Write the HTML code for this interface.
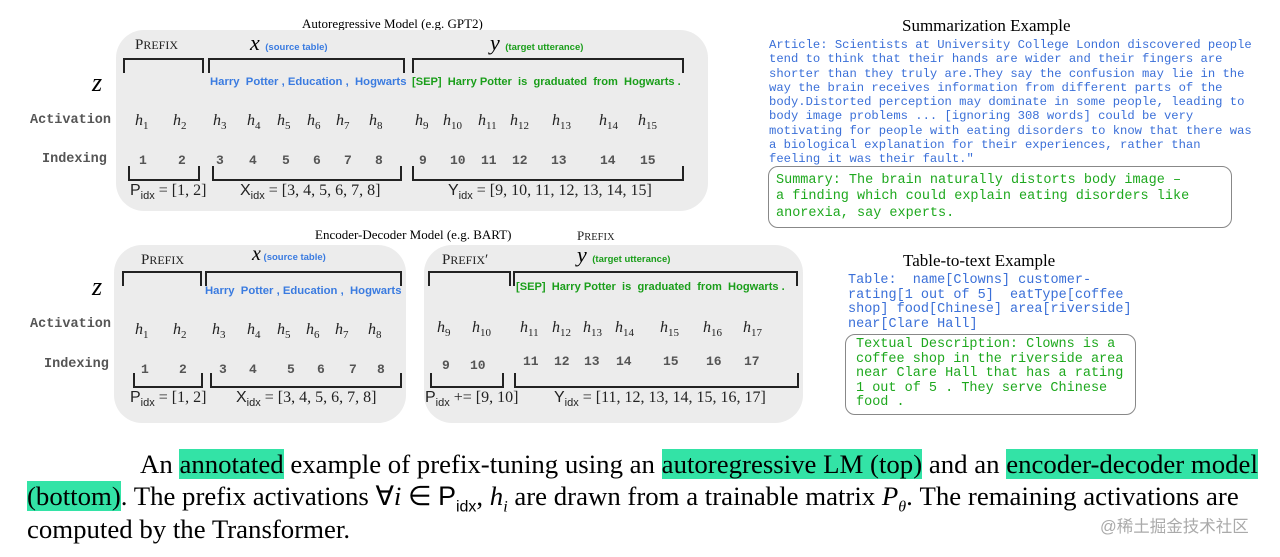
<!DOCTYPE html>
<html><head><meta charset="utf-8"><style>
body{margin:0;width:1280px;height:557px;background:#fff;position:relative;overflow:hidden;font-family:"Liberation Serif",serif;}
.a{position:absolute;white-space:nowrap;line-height:1;}
.box{position:absolute;background:#ececec;border-radius:28px;}
.h{font-family:"Liberation Serif",serif;font-style:italic;font-size:16px;color:#222;}
.h sub{font-style:normal;font-size:11px;}
.n{font-family:"Liberation Mono",monospace;font-weight:bold;font-size:13px;color:#555;}
.lab{font-family:"Liberation Mono",monospace;font-weight:bold;font-size:13.5px;color:#555;}
.bl{font-family:"Liberation Sans",sans-serif;font-weight:bold;font-size:11.3px;color:#3a7be0;}
.gr{font-family:"Liberation Sans",sans-serif;font-weight:bold;font-size:11.1px;color:#1a9e1a;}
.sc{font-size:15px;color:#222;}
.sc small{font-size:12px;}
.idx{font-size:16px;color:#222;}
.idx .s{font-family:"Liberation Sans",sans-serif;}
.idx sub{font-family:"Liberation Sans",sans-serif;font-size:11px;}
.brT{position:absolute;border:2.5px solid #222;border-bottom:none;height:13px;}
.brB{position:absolute;border:2.5px solid #222;border-top:none;height:13px;}
.mono{position:absolute;font-family:"Liberation Mono",monospace;white-space:pre;}
.hl{background:#33e3a6;}
</style></head><body>

<div class="a" style="left:302px;top:17px;font-size:13px;">Autoregressive Model (e.g. GPT2)</div>
<div class="box" style="left:116px;top:30px;width:592px;height:181px;"></div>
<div class="a sc" style="left:135px;top:38px;">P<small>REFIX</small></div>
<div class="a" style="left:250px;top:32px;font-size:22px;font-style:italic;">x <span class="bl" style="font-style:normal;font-size:9.5px;">(source table)</span></div>
<div class="a" style="left:490px;top:32px;font-size:22px;font-style:italic;">y <span class="gr" style="font-style:normal;font-size:9.5px;">(target utterance)</span></div>
<div class="brT" style="left:123px;top:58px;width:77px;"></div>
<div class="brT" style="left:208px;top:58px;width:193px;"></div>
<div class="brT" style="left:412px;top:58px;width:268px;"></div>
<div class="a" style="left:92px;top:70px;font-size:26px;font-style:italic;">z</div>
<div class="a bl" style="left:210px;top:77px;">Harry&nbsp; Potter , Education ,&nbsp; Hogwarts</div>
<div class="a gr" style="left:412px;top:77px;">[SEP]&nbsp; Harry Potter&nbsp; is&nbsp; graduated&nbsp; from&nbsp; Hogwarts .</div>
<div class="a lab" style="left:30px;top:114px;">Activation</div>
<div class="a lab" style="left:42px;top:153px;">Indexing</div>

<div class="a h" style="left:135px;top:113px;">h<sub>1</sub></div>
<div class="a h" style="left:173px;top:113px;">h<sub>2</sub></div>
<div class="a h" style="left:213px;top:113px;">h<sub>3</sub></div>
<div class="a h" style="left:247px;top:113px;">h<sub>4</sub></div>
<div class="a h" style="left:277px;top:113px;">h<sub>5</sub></div>
<div class="a h" style="left:307px;top:113px;">h<sub>6</sub></div>
<div class="a h" style="left:336px;top:113px;">h<sub>7</sub></div>
<div class="a h" style="left:369px;top:113px;">h<sub>8</sub></div>
<div class="a h" style="left:415px;top:113px;">h<sub>9</sub></div>
<div class="a h" style="left:443px;top:113px;">h<sub>10</sub></div>
<div class="a h" style="left:478px;top:113px;">h<sub>11</sub></div>
<div class="a h" style="left:510px;top:113px;">h<sub>12</sub></div>
<div class="a h" style="left:552px;top:113px;">h<sub>13</sub></div>
<div class="a h" style="left:599px;top:113px;">h<sub>14</sub></div>
<div class="a h" style="left:638px;top:113px;">h<sub>15</sub></div>

<div class="a n" style="left:139px;top:154px;">1</div>
<div class="a n" style="left:178px;top:154px;">2</div>
<div class="a n" style="left:216px;top:154px;">3</div>
<div class="a n" style="left:249px;top:154px;">4</div>
<div class="a n" style="left:282px;top:154px;">5</div>
<div class="a n" style="left:313px;top:154px;">6</div>
<div class="a n" style="left:344px;top:154px;">7</div>
<div class="a n" style="left:375px;top:154px;">8</div>
<div class="a n" style="left:419px;top:154px;">9</div>
<div class="a n" style="left:450px;top:154px;">10</div>
<div class="a n" style="left:481px;top:154px;">11</div>
<div class="a n" style="left:512px;top:154px;">12</div>
<div class="a n" style="left:551px;top:154px;">13</div>
<div class="a n" style="left:600px;top:154px;">14</div>
<div class="a n" style="left:640px;top:154px;">15</div>

<div class="brB" style="left:128px;top:166px;width:68px;"></div>
<div class="brB" style="left:212px;top:166px;width:186px;"></div>
<div class="brB" style="left:412px;top:166px;width:268px;"></div>
<div class="a idx" style="left:130px;top:183px;"><span class="s">P</span><sub>idx</sub> = [1, 2]</div>
<div class="a idx" style="left:240px;top:183px;"><span class="s">X</span><sub>idx</sub> = [3, 4, 5, 6, 7, 8]</div>
<div class="a idx" style="left:448px;top:183px;"><span class="s">Y</span><sub>idx</sub> = [9, 10, 11, 12, 13, 14, 15]</div>

<div class="a" style="left:315px;top:228px;font-size:13px;">Encoder-Decoder Model (e.g. BART)</div>
<div class="a sc" style="left:577px;top:229px;font-size:13px;">P<small style="font-size:10.5px;">REFIX</small></div>
<div class="box" style="left:114px;top:245px;width:292px;height:178px;"></div>
<div class="box" style="left:424px;top:245px;width:379px;height:178px;"></div>
<div class="a sc" style="left:141px;top:253px;">P<small>REFIX</small></div>
<div class="a" style="left:252px;top:244px;font-size:20px;font-style:italic;">x<span class="bl" style="font-style:normal;font-size:9.5px;"> (source table)</span></div>
<div class="a sc" style="left:442px;top:253px;">P<small>REFIX</small>′</div>
<div class="a" style="left:577px;top:244px;font-size:22px;font-style:italic;">y <span class="gr" style="font-style:normal;font-size:9.5px;">(target utterance)</span></div>
<div class="brT" style="left:122px;top:271px;width:76px;"></div>
<div class="brT" style="left:205px;top:271px;width:193px;"></div>
<div class="brT" style="left:428px;top:271px;width:79px;"></div>
<div class="brT" style="left:513px;top:271px;width:281px;"></div>
<div class="a" style="left:92px;top:274px;font-size:26px;font-style:italic;">z</div>
<div class="a bl" style="left:205px;top:286px;">Harry&nbsp; Potter , Education ,&nbsp; Hogwarts</div>
<div class="a gr" style="left:516px;top:282px;">[SEP]&nbsp; Harry Potter&nbsp; is&nbsp; graduated&nbsp; from&nbsp; Hogwarts .</div>
<div class="a lab" style="left:30px;top:318px;">Activation</div>
<div class="a lab" style="left:44px;top:358px;">Indexing</div>

<div class="a h" style="left:135px;top:322px;">h<sub>1</sub></div>
<div class="a h" style="left:173px;top:322px;">h<sub>2</sub></div>
<div class="a h" style="left:212px;top:322px;">h<sub>3</sub></div>
<div class="a h" style="left:247px;top:322px;">h<sub>4</sub></div>
<div class="a h" style="left:277px;top:322px;">h<sub>5</sub></div>
<div class="a h" style="left:306px;top:322px;">h<sub>6</sub></div>
<div class="a h" style="left:335px;top:322px;">h<sub>7</sub></div>
<div class="a h" style="left:368px;top:322px;">h<sub>8</sub></div>
<div class="a h" style="left:437px;top:320px;">h<sub>9</sub></div>
<div class="a h" style="left:472px;top:320px;">h<sub>10</sub></div>
<div class="a h" style="left:520px;top:320px;">h<sub>11</sub></div>
<div class="a h" style="left:552px;top:320px;">h<sub>12</sub></div>
<div class="a h" style="left:583px;top:320px;">h<sub>13</sub></div>
<div class="a h" style="left:615px;top:320px;">h<sub>14</sub></div>
<div class="a h" style="left:660px;top:320px;">h<sub>15</sub></div>
<div class="a h" style="left:703px;top:320px;">h<sub>16</sub></div>
<div class="a h" style="left:743px;top:320px;">h<sub>17</sub></div>

<div class="a n" style="left:141px;top:363px;">1</div>
<div class="a n" style="left:179px;top:363px;">2</div>
<div class="a n" style="left:219px;top:363px;">3</div>
<div class="a n" style="left:249px;top:363px;">4</div>
<div class="a n" style="left:287px;top:363px;">5</div>
<div class="a n" style="left:317px;top:363px;">6</div>
<div class="a n" style="left:349px;top:363px;">7</div>
<div class="a n" style="left:377px;top:363px;">8</div>
<div class="a n" style="left:442px;top:359px;">9</div>
<div class="a n" style="left:470px;top:359px;">10</div>
<div class="a n" style="left:523px;top:355px;">11</div>
<div class="a n" style="left:554px;top:355px;">12</div>
<div class="a n" style="left:584px;top:355px;">13</div>
<div class="a n" style="left:616px;top:355px;">14</div>
<div class="a n" style="left:663px;top:355px;">15</div>
<div class="a n" style="left:706px;top:355px;">16</div>
<div class="a n" style="left:744px;top:355px;">17</div>

<div class="brB" style="left:133px;top:373px;width:66px;"></div>
<div class="brB" style="left:210px;top:373px;width:188px;"></div>
<div class="brB" style="left:430px;top:373px;width:70px;"></div>
<div class="brB" style="left:514px;top:373px;width:281px;"></div>
<div class="a idx" style="left:130px;top:390px;"><span class="s">P</span><sub>idx</sub> = [1, 2]</div>
<div class="a idx" style="left:236px;top:390px;"><span class="s">X</span><sub>idx</sub> = [3, 4, 5, 6, 7, 8]</div>
<div class="a idx" style="left:425px;top:390px;"><span class="s">P</span><sub>idx</sub> += [9, 10]</div>
<div class="a idx" style="left:554px;top:390px;"><span class="s">Y</span><sub>idx</sub> = [11, 12, 13, 14, 15, 16, 17]</div>

<div class="a" style="left:902px;top:17px;font-size:17px;">Summarization Example</div>
<div class="mono" style="left:769px;top:38px;font-size:12.2px;line-height:14.3px;color:#3a6fd8;">Article: Scientists at University College London discovered people
tend to think that their hands are wider and their fingers are
shorter than they truly are.They say the confusion may lie in the
way the brain receives information from different parts of the
body.Distorted perception may dominate in some people, leading to
body image problems ... [ignoring 308 words] could be very
motivating for people with eating disorders to know that there was
a biological explanation for their experiences, rather than
feeling it was their fault."</div>
<div style="position:absolute;left:768px;top:166px;width:462px;height:60px;border:1.5px solid #888;border-radius:10px;"></div>
<div class="mono" style="left:776px;top:173px;font-size:13.5px;line-height:16.3px;color:#1ea81e;">Summary: The brain naturally distorts body image –
a finding which could explain eating disorders like
anorexia, say experts.</div>

<div class="a" style="left:903px;top:252px;font-size:17px;">Table-to-text Example</div>
<div class="mono" style="left:848px;top:274px;font-size:13.5px;line-height:14.6px;color:#3a6fd8;">Table:  name[Clowns] customer-
rating[1 out of 5]  eatType[coffee
shop] food[Chinese] area[riverside]
near[Clare Hall]</div>
<div style="position:absolute;left:845px;top:334px;width:289px;height:79px;border:1.5px solid #888;border-radius:10px;"></div>
<div class="mono" style="left:856px;top:338px;font-size:13.5px;line-height:14.6px;color:#1ea81e;">Textual Description: Clowns is a
coffee shop in the riverside area
near Clare Hall that has a rating
1 out of 5 . They serve Chinese
food .</div>

<div class="a" style="left:140px;top:451px;font-size:26.8px;">An <span class="hl">annotated</span> example of prefix-tuning using an <span class="hl">autoregressive LM (top)</span> and an <span class="hl">encoder-decoder model</span></div>
<div class="a" style="left:27px;top:483px;font-size:26.8px;"><span class="hl">(bottom)</span>. The prefix activations ∀<i>i</i> ∈ <span style="font-family:'Liberation Sans',sans-serif;">P<sub style="font-size:16px;">idx</sub></span>, <i>h<sub style="font-size:16px;">i</sub></i> are drawn from a trainable matrix <i>P<sub style="font-size:16px;">θ</sub></i>. The remaining activations are</div>
<div class="a" style="left:27px;top:516px;font-size:26.8px;">computed by the Transformer.</div>
<div class="a" style="left:1100px;top:519px;font-size:16.5px;color:#aaa;font-family:'Liberation Sans','Noto Sans CJK SC',sans-serif;">@稀土掘金技术社区</div>
</body></html>
